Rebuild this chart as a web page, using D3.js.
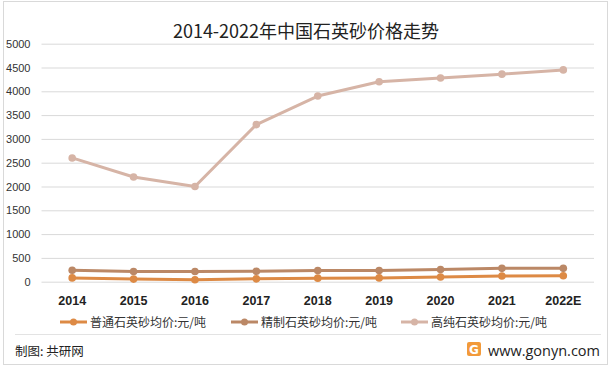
<!DOCTYPE html>
<html><head><meta charset="utf-8">
<script src="https://cdn.jsdelivr.net/npm/d3@7"></script>
<style>body{margin:0;background:#fff}svg{display:block}</style>
</head><body>
<script>
const years = ["2014","2015","2016","2017","2018","2019","2020","2021","2022E"];
const putong = [80, 55, 40, 60, 75, 80, 100, 120, 125];
const jingzhi = [240, 215, 215, 220, 235, 235, 255, 280, 280];
const gaochun = [2600, 2200, 2000, 3300, 3900, 4200, 4280, 4360, 4450];
const yTicks = [0,500,1000,1500,2000,2500,3000,3500,4000,4500,5000];
const seriesNames = ["普通石英砂均价:元/吨","精制石英砂均价:元/吨","高纯石英砂均价:元/吨"];
const seriesColors = ["#DD8A45","#BB8866","#D6B4A6"];
const seriesData = [putong, jingzhi, gaochun];

const W=612,H=368;
const svg=d3.select("body").append("svg").attr("width",W).attr("height",H);
const font="'Noto Sans CJK SC','Noto Sans',sans-serif";
svg.append("rect").attr("x",3.5).attr("y",1.5).attr("width",604).attr("height",363)
  .attr("fill","#fff").attr("stroke","#d9d9d9");

svg.append("text").attr("x",306).attr("y",38).attr("text-anchor","middle")
  .attr("font-family",font).attr("font-size",18).attr("fill","#222")
  .text("2014-2022年中国石英砂价格走势");

const x=d3.scaleBand().domain(years).range([41.5,594]);
const y=d3.scaleLinear().domain([0,5000]).range([281.7,43.7]);

const gy=svg.append("g").attr("transform","translate(41.5,0)")
  .call(d3.axisLeft(y).tickValues(yTicks).tickSize(-(594-41.5)).tickPadding(11).tickFormat(d3.format("d")));
gy.select(".domain").remove();
gy.selectAll(".tick line").attr("stroke","#d9d9d9");
gy.selectAll(".tick text").attr("font-family","'Liberation Sans',Arial,sans-serif").attr("font-size",11).attr("fill","#333");

const gx=svg.append("g").attr("transform","translate(0,281.7)")
  .call(d3.axisBottom(x).tickSize(0).tickPadding(14));
gx.select(".domain").remove();
gx.selectAll(".tick text").attr("font-family","'Liberation Sans',Arial,sans-serif").attr("font-size",12.5).attr("font-weight","bold").attr("fill","#222");

const line=d3.line().x((d,i)=>x(years[i])+x.bandwidth()/2).y(d=>y(d));
[2,1,0].forEach(k=>{
  const g=svg.append("g");
  g.append("path").datum(seriesData[k]).attr("d",line).attr("fill","none")
    .attr("stroke",seriesColors[k]).attr("stroke-width",3).attr("stroke-linejoin","round");
  g.selectAll("circle").data(seriesData[k]).join("circle")
    .attr("cx",(d,i)=>x(years[i])+x.bandwidth()/2).attr("cy",d=>y(d)).attr("r",3.8)
    .attr("fill",seriesColors[k]);
});

const legX=[60,231,401];
seriesNames.forEach((n,i)=>{
  const g=svg.append("g").attr("transform",`translate(${legX[i]},322)`);
  g.append("line").attr("x1",0).attr("x2",27).attr("stroke",seriesColors[i]).attr("stroke-width",3);
  g.append("circle").attr("cx",13.5).attr("r",3.5).attr("fill",seriesColors[i]);
  g.append("text").attr("x",30).attr("y",4.5).attr("font-family",font).attr("font-size",12).attr("fill","#333").text(n);
});

svg.append("line").attr("x1",15).attr("x2",601).attr("y1",334.5).attr("y2",334.5).attr("stroke","#e3e3e3");
svg.append("text").attr("x",15).attr("y",356).attr("font-family",font).attr("font-size",12.5).attr("fill","#222").text("制图: 共研网");
const lg=svg.append("g").attr("transform","translate(467,342)");
lg.append("rect").attr("width",14).attr("height",14).attr("rx",2).attr("fill","#F29A3A");
lg.append("text").attr("x",7).attr("y",12).attr("text-anchor","middle").attr("font-family","'DejaVu Sans',sans-serif").attr("font-weight","bold").attr("font-size",12).attr("fill","#fff").text("G");
svg.append("text").attr("x",600).attr("y",356).attr("text-anchor","end").attr("font-family","'Open Sans','Noto Sans',sans-serif").attr("font-size",14.5).attr("fill","#222").text("www.gonyn.com");
</script>
</body></html>
